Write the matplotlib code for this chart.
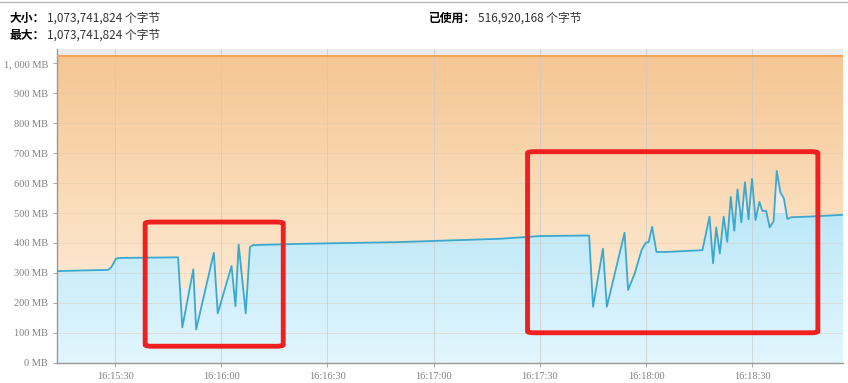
import numpy as np
import matplotlib
matplotlib.use("Agg")
import matplotlib.pyplot as plt
from matplotlib.patches import FancyBboxPatch, Polygon
from matplotlib.ticker import FuncFormatter
from matplotlib.colors import LinearSegmentedColormap

plt.rcParams['font.family'] = ['Noto Sans CJK SC', 'DejaVu Sans']

# 时间：距 16:15:00 的秒数；已使用内存（MB）
t_sec = [13.6, 20.1, 28.0, 28.9, 30.3, 31.4, 47.8, 49.0, 52.1, 52.9, 57.9, 59.0,
         62.9, 64.0, 64.9, 66.9, 68.1, 69.0, 82.2, 110.4, 138.7, 150.0, 163.9,
         165.0, 167.8, 168.9, 173.9, 174.9, 176.8, 178.7, 179.9, 180.7, 181.7,
         182.9, 185.7, 195.9, 197.9, 198.9, 199.8, 200.8, 201.9, 202.9, 203.9,
         204.9, 205.8, 206.9, 207.9, 208.9, 209.9, 210.9, 212.0, 212.8, 213.9,
         214.9, 216.0, 216.9, 217.9, 218.9, 219.9, 221.0, 226.1, 235.6]
used_mb = [306, 308, 310, 318, 348, 350, 352, 118, 312, 111, 367, 165,
           323, 189, 395, 165, 387, 393, 397, 403, 414, 423, 425,
           187, 381, 187, 434, 243, 299, 376, 401, 403, 454,
           370, 370, 376, 488, 332, 452, 365, 488, 404, 554,
           441, 579, 469, 603, 479, 614, 477, 537, 507, 507,
           452, 473, 641, 569, 549, 480, 486, 488, 494]
max_mb = 1024
y_ticks = [0, 100, 200, 300, 400, 500, 600, 700, 800, 900, 1000]
x_ticks = [30, 60, 90, 120, 150, 180, 210]
# 红框标注 (t0, t1, mb0, mb1)
boxes = [(38.5, 77.5, 55, 470), (146.5, 228.5, 100, 705)]

fig = plt.figure(figsize=(8.48, 3.83), dpi=100)
ax = fig.add_axes([57 / 848, (383 - 362.7) / 383, 786 / 848, (362.7 - 49) / 383])
t = np.array(t_sec)
u = np.array(used_mb)
x0, x1 = 13.6, 235.6
ax.set_facecolor('#ececec')

# 渐变填充
grad = np.linspace(0, 1, 256).reshape(-1, 1)
cm_o = LinearSegmentedColormap.from_list('o', ['#fde9d2', '#f5c692'])
cm_b = LinearSegmentedColormap.from_list('b', ['#e2f6fd', '#bde8f8'])
im1 = ax.imshow(grad, extent=[x0, x1, 250, max_mb], origin='lower', cmap=cm_o,
                aspect='auto', zorder=1)
im1.set_clip_path(Polygon(np.vstack([np.column_stack([t, u]),
                                     [[x1, max_mb], [x0, max_mb]]]),
                          closed=True, transform=ax.transData))
im2 = ax.imshow(grad, extent=[x0, x1, 0, 500], origin='lower', cmap=cm_b,
                aspect='auto', zorder=1)
im2.set_clip_path(Polygon(np.vstack([np.column_stack([t, u]),
                                     [[x1, 0], [x0, 0]]]),
                          closed=True, transform=ax.transData))
ax.set_xlim(x0, x1)
ax.set_ylim(0, 1048)

ax.axhline(max_mb, color='#f2a45c', lw=1.5, zorder=3)
ax.plot(t, u, color='#3ba9cf', lw=1.3, zorder=4)

for y in y_ticks[1:]:
    ax.axhline(y, color='#e0c8b0', lw=0.5, alpha=0.6, zorder=2)
for x in x_ticks:
    ax.axvline(x, color='#c9c9c9', lw=0.6, alpha=0.8, zorder=2)

ax.set_yticks(y_ticks)
ax.yaxis.set_major_formatter(FuncFormatter(lambda v, p: f"{int(v):,} MB".replace(',', ', ')))
ax.set_xticks(x_ticks)
ax.xaxis.set_major_formatter(FuncFormatter(
    lambda v, p: "16:%02d:%02d" % (15 + int(v) // 60, int(v) % 60)))
ax.tick_params(colors='#999999', labelsize=7.5, length=3, width=0.6,
               labelcolor='#808080')
for lab in ax.get_xticklabels() + ax.get_yticklabels():
    lab.set_family('Liberation Serif')
for s in ['top', 'right']:
    ax.spines[s].set_visible(False)
for s in ['left', 'bottom']:
    ax.spines[s].set_color('#999999')
    ax.spines[s].set_linewidth(1.0)

for (a, b, c, d) in boxes:
    ax.add_patch(FancyBboxPatch((a, c), b - a, d - c,
                                boxstyle="round,pad=0,rounding_size=2",
                                fill=False, ec='#f02020', lw=3.5, zorder=6,
                                mutation_aspect=2.5, clip_on=False))

# 顶部信息
fig.add_artist(plt.Line2D([0, 1], [381 / 383, 381 / 383], color='#bbbbbb', lw=1))
fig.text(10 / 848, 1 - 18 / 383, "大小：", fontsize=8.5, fontweight='bold', va='center')
fig.text(47 / 848, 1 - 18 / 383, "1,073,741,824 个字节", fontsize=8.5, va='center', color='#333333')
fig.text(10 / 848, 1 - 35 / 383, "最大：", fontsize=8.5, fontweight='bold', va='center')
fig.text(47 / 848, 1 - 35 / 383, "1,073,741,824 个字节", fontsize=8.5, va='center', color='#333333')
fig.text(429 / 848, 1 - 18 / 383, "已使用：", fontsize=8.5, fontweight='bold', va='center')
fig.text(478 / 848, 1 - 18 / 383, "516,920,168 个字节", fontsize=8.5, va='center', color='#333333')

fig.savefig('out.png', dpi=100)
